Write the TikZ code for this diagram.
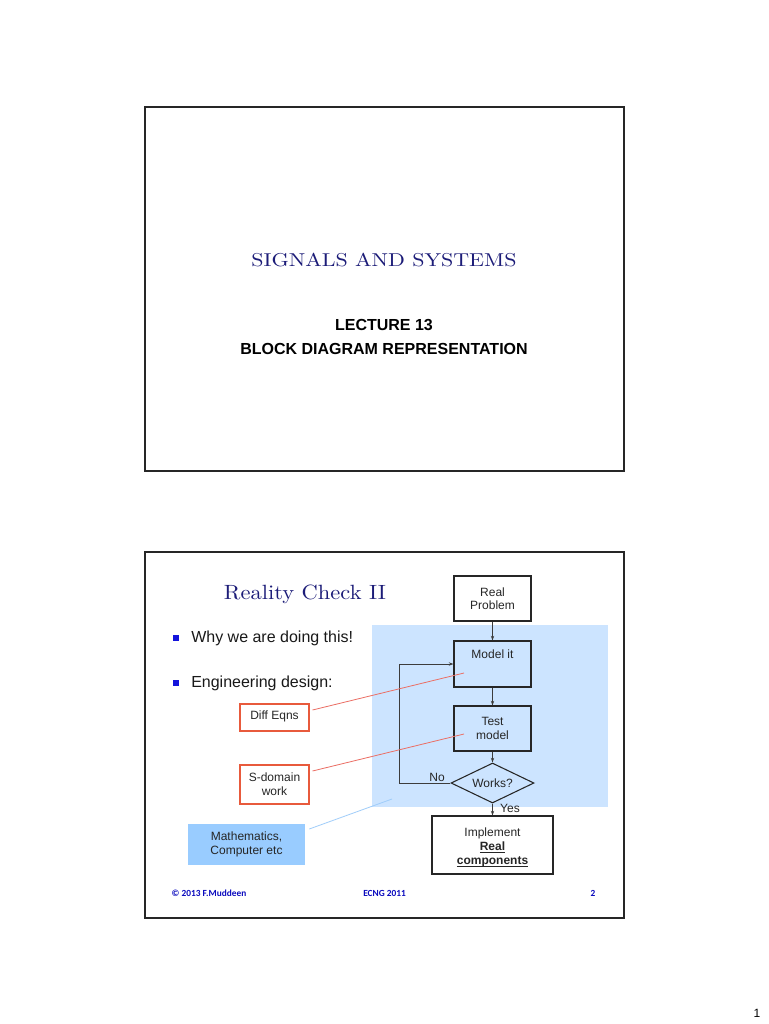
\documentclass[tikz,border=0pt]{standalone}
\usepackage{fontspec}
\newfontfamily\arial{Liberation Sans}
\newfontfamily\calib{Carlito}
\usetikzlibrary{shapes.geometric,arrows.meta}
\definecolor{navy}{RGB}{28,28,120}
\definecolor{bgblue}{RGB}{204,228,255}
\definecolor{mathblue}{RGB}{153,204,255}
\definecolor{boxred}{RGB}{232,90,60}
\definecolor{linered}{RGB}{235,110,100}
\definecolor{lineblue}{RGB}{160,205,250}
\definecolor{footblue}{RGB}{10,10,190}
\definecolor{bulblue}{RGB}{20,20,220}
\definecolor{arrgray}{RGB}{60,60,60}
\newcommand{\myul}[1]{\underline{\raisebox{0pt}[\height][0pt]{#1}}}
\tikzset{
  frame/.style={draw=black!85, line width=1.6pt},
  fbox/.style={draw=black!85, line width=0.8pt, inner sep=0pt, align=center,
    font=\arial\fontsize{9}{10}\selectfont, text=black!85},
  redbox/.style={draw=boxred, line width=0.8pt, inner sep=0pt, align=center,
    font=\arial\fontsize{9}{10.5}\selectfont, text=black!85},
  arr/.style={draw=arrgray, line width=0.6pt, -{Stealth[length=3.5pt,width=2.5pt]}},
  ftxt/.style={font=\calib\bfseries\fontsize{7}{8}\selectfont, text=footblue, inner sep=0pt},
  btxt/.style={font=\arial\fontsize{12}{14}\selectfont, text=black!90, anchor=west, inner sep=0pt},
  bsq/.style={fill=bulblue, minimum size=3.8pt, inner sep=0pt},
  small/.style={font=\arial\fontsize{9}{10.5}\selectfont, text=black!85, inner sep=0pt}
}
\begin{document}
\begin{tikzpicture}[x=0.75pt,y=-0.75pt]
\useasboundingbox (0,0) rectangle (768,1024);
\fill[white] (0,0) rectangle (768,1024);

% ---- slide 1 ----
\draw[frame] (145,107) rectangle (624,471);
\node[text=navy, inner sep=0pt] (t1) at (384,260)
  {\resizebox{199pt}{10pt}{\fontsize{10}{12}\selectfont SIGNALS AND SYSTEMS}};
\node[font=\arial\bfseries\fontsize{12}{14}\selectfont, inner sep=0pt] (l1) at (384,325) {LECTURE 13};
\node[font=\arial\bfseries\fontsize{12}{14}\selectfont, inner sep=0pt] (l2) at (384,349) {BLOCK DIAGRAM REPRESENTATION};

% ---- slide 2 ----
\draw[frame] (145,552) rectangle (624,918);
\fill[bgblue] (372,625) rectangle (608,807);
\coordinate (bgpt) at (392,799);

\node[text=navy, inner sep=0pt, anchor=base] (t2) at (305,599)
  {\resizebox{121.5pt}{10.9pt}{\fontsize{10}{12}\selectfont Reality Check II}};

\node[bsq] (b1) at (176,638) {};
\node[btxt] (w1) at (191,638) {Why we are doing this!};
\node[bsq] (b2) at (176,683) {};
\node[btxt] (w2) at (191,683) {Engineering design:};

% flowchart
\node[fbox, fill=white, minimum width=77*0.75pt, minimum height=45*0.75pt] (rp) at (492.5,598.5) {Real\\Problem};
\node[fbox, minimum width=77*0.75pt, minimum height=46*0.75pt,
  label={[small, anchor=north, yshift=-6.5pt]north:Model it}] (mi) at (492.5,664) {};
\node[fbox, minimum width=77*0.75pt, minimum height=45*0.75pt] (tm) at (492.5,728.5) {Test\\model};
\node[fbox, shape=diamond, aspect=2.07, minimum width=83*0.75pt, minimum height=40*0.75pt] (wk) at (492.5,783) {Works?};
\node[fbox, minimum width=121*0.75pt, minimum height=58*0.75pt, font=\arial\fontsize{9}{10.6}\selectfont] (im) at (492.5,845)
  {\rule{0pt}{9.8pt}Implement\\\myul{\textbf{Real}}\\\myul{\textbf{components}}};

\draw[arr] (rp.south) -- (mi.north);
\draw[arr] (mi.south) -- (tm.north);
\draw[arr] (tm.south) -- (wk.north);
\draw[arr] (wk.south) -- (im.north);
\coordinate (lp) at (399,783);
\draw[arr] (wk.west) -- (lp) |- (mi.west);
\node[small] (no) at (437,777) {No};
\node[small] (yes) at (510,808) {Yes};

% side boxes
\node[redbox, minimum width=69*0.75pt, minimum height=27*0.75pt,
  label={[small, anchor=north, yshift=-5pt]north:Diff Eqns}] (de) at (274.5,717.5) {};
\node[redbox, minimum width=69*0.75pt, minimum height=39*0.75pt] (sd) at (274.5,784.5) {S-domain\\work};
\node[fill=mathblue, minimum width=117*0.75pt, minimum height=41*0.75pt, inner sep=0pt, align=center,
  font=\arial\fontsize{9}{10.5}\selectfont, text=black!85] (ma) at (246.5,844.5) {Mathematics,\\Computer etc};

\coordinate (mip) at (464,673);
\coordinate (tmp) at (464,734);
\draw[linered, line width=0.6pt] ([shift={(3,-7.5)}]de.east) -- (mip);
\draw[linered, line width=0.6pt] ([shift={(3,-13.5)}]sd.east) -- (tmp);
\draw[lineblue, line width=0.6pt] ([shift={(4,-15.5)}]ma.east) -- (bgpt);

% footer
\node[ftxt] (f1) at (209,893) {\textcopyright\ 2013 F.Muddeen};
\node[ftxt] (f2) at (384.5,893) {ECNG 2011};
\node[ftxt] (f3) at (593,893) {2};

\node[font=\arial\fontsize{9}{10}\selectfont, inner sep=0pt] (pg) at (757,1013) {1};
\end{tikzpicture}
\end{document}
